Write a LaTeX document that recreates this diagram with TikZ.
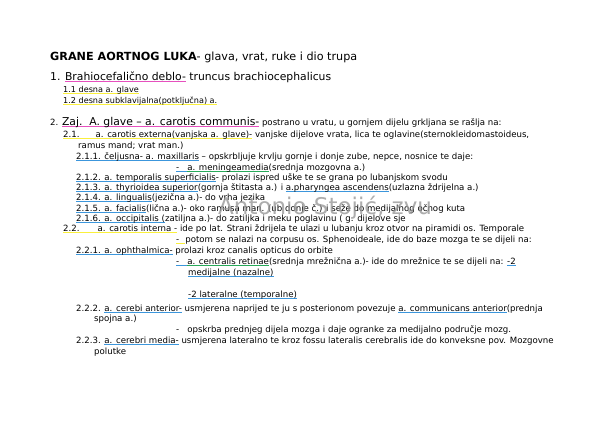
\documentclass[tikz,border=0pt]{standalone}
\usepackage{fontspec}
\setmainfont{DejaVu Sans}
\definecolor{pk}{RGB}{230,80,190}
\definecolor{yl}{RGB}{250,240,60}
\definecolor{bl}{RGB}{60,150,220}
\definecolor{gr}{RGB}{40,170,90}
\newcommand\hl[2]{\setbox0\hbox{#2}\rlap{\color{#1}\rule[-1.8pt]{\wd0}{0.9pt}}\box0\relax}
\tikzset{t/.style={anchor=base west,inner sep=0pt,font=\fontsize{8.6}{9}\selectfont},
 s/.style={t,font=\fontsize{8.1}{9}\selectfont},
 b/.style={t,font=\fontsize{10.8}{12}\selectfont}}
\begin{document}
\begin{tikzpicture}[x=1pt,y=-1pt]
\useasboundingbox[fill=white] (0,0) rectangle (600,424);
\node[t,font=\fontsize{11.2}{12}\selectfont] (ti) at (50,60) {\textbf{GRANE AORTNOG LUKA}- glava, vrat, ruke i dio trupa};
\node[b] (l1) at (50,80) {1. \hl{pk}{Brahiocefalično deblo-} truncus brachiocephalicus};
\node[s] (l11) at (63,92) {\hl{yl}{1.1 desna a. glave}};
\node[s] (l12) at (63,103) {\hl{yl}{1.2 desna subklavijalna(potključna) a.}};
\node[t] (l2) at (50,125) {2. \hl{pk}{\fontsize{10.8}{12}\selectfont Zaj.\ \ A. glave – a. carotis communis-} postrano u vratu, u gornjem dijelu grkljana se rašlja na:};
\node[t] (l21) at (63,137) {\hl{yl}{2.1.\hspace{16pt}a. carotis externa(vanjska a. glave)-} vanjske dijelove vrata, lica te oglavine(sternokleidomastoideus,};
\node[t] (l21b) at (78,148) {ramus mand; vrat man.)};
\node[t] (a1) at (76,159) {\hl{bl}{2.1.1. čeljusna- a. maxillaris} – opskrbljuje krvlju gornje i donje zube, nepce, nosnice te daje:};
\node[t] (a1d) at (176,170) {\hl{bl}{-\hspace{8pt}}\hl{gr}{a. meningeamedia}(srednja mozgovna a.)};
\node[t] (a2) at (76,180) {\hl{bl}{2.1.2. a. temporalis superficialis}- prolazi ispred uške te se grana po lubanjskom svodu};
\node[t] (a3) at (76,190) {\hl{bl}{2.1.3. a. thyrioidea superior}(gornja štitasta a.) i \hl{bl}{a.pharyngea ascendens}(uzlazna ždrijelna a.)};
\node[t] (a4) at (76,200) {\hl{bl}{2.1.4. a. lingualis}(jezična a.)- do vrha jezika};
\node[t] (a5) at (76,211) {\hl{bl}{2.1.5. a. facialis}(lična a.)- oko ramusa man. (ub donje č.) i seže do medijalnog očnog kuta};
\node[t] (a6) at (76,221) {\hl{bl}{2.1.6. a. occipitalis (}zatiljna a.)- do zatiljka i meku poglavinu ( g. dijelove sje};
\node[t] (l22) at (63,231) {\hl{yl}{2.2.\hspace{18pt}a. carotis interna -} ide po lat. Strani ždrijela te ulazi u lubanju kroz otvor na piramidi os. Temporale};
\node[t] (l22b) at (176,242) {\hl{yl}{-\hspace{6pt}}potom se nalazi na corpusu os. Sphenoideale, ide do baze mozga te se dijeli na:};
\node[t] (b1) at (76,253) {\hl{bl}{2.2.1. a. ophthalmica-} prolazi kroz canalis opticus do orbite};
\node[t] (b1d) at (176,264) {\hl{bl}{-\hspace{8pt}}\hl{gr}{a. centralis retinae}(srednja mrežnična a.)- ide do mrežnice te se dijeli na: \hl{bl}{-2}};
\node[t] (b1e) at (188,275) {\hl{bl}{medijalne (nazalne)}};
\node[t] (b1f) at (188,297) {\hl{bl}{-2 lateralne (temporalne)}};
\node[t] (b2) at (76,311) {2.2.2. \hl{bl}{a. cerebi anterior-} usmjerena naprijed te ju s posterionom povezuje \hl{bl}{a. communicans anterior}(prednja};
\node[t] (b2b) at (94,321) {spojna a.)};
\node[t] (b2c) at (176,332) {-\hspace{8pt}opskrba prednjeg dijela mozga i daje ogranke za medijalno područje mozg.};
\node[t] (b3) at (76,343) {2.2.3. \hl{bl}{a. cerebri media-} usmjerena lateralno te kroz fossu lateralis cerebralis ide do konveksne pov. Mozgovne};
\node[t] (b3b) at (94,354) {polutke};
\node[anchor=base west,inner sep=0pt,font=\fontsize{23}{24}\selectfont,text=black!40,opacity=0.8] (wm) at (218,214) {Antonio Stojić, zvu};
\end{tikzpicture}
\end{document}
